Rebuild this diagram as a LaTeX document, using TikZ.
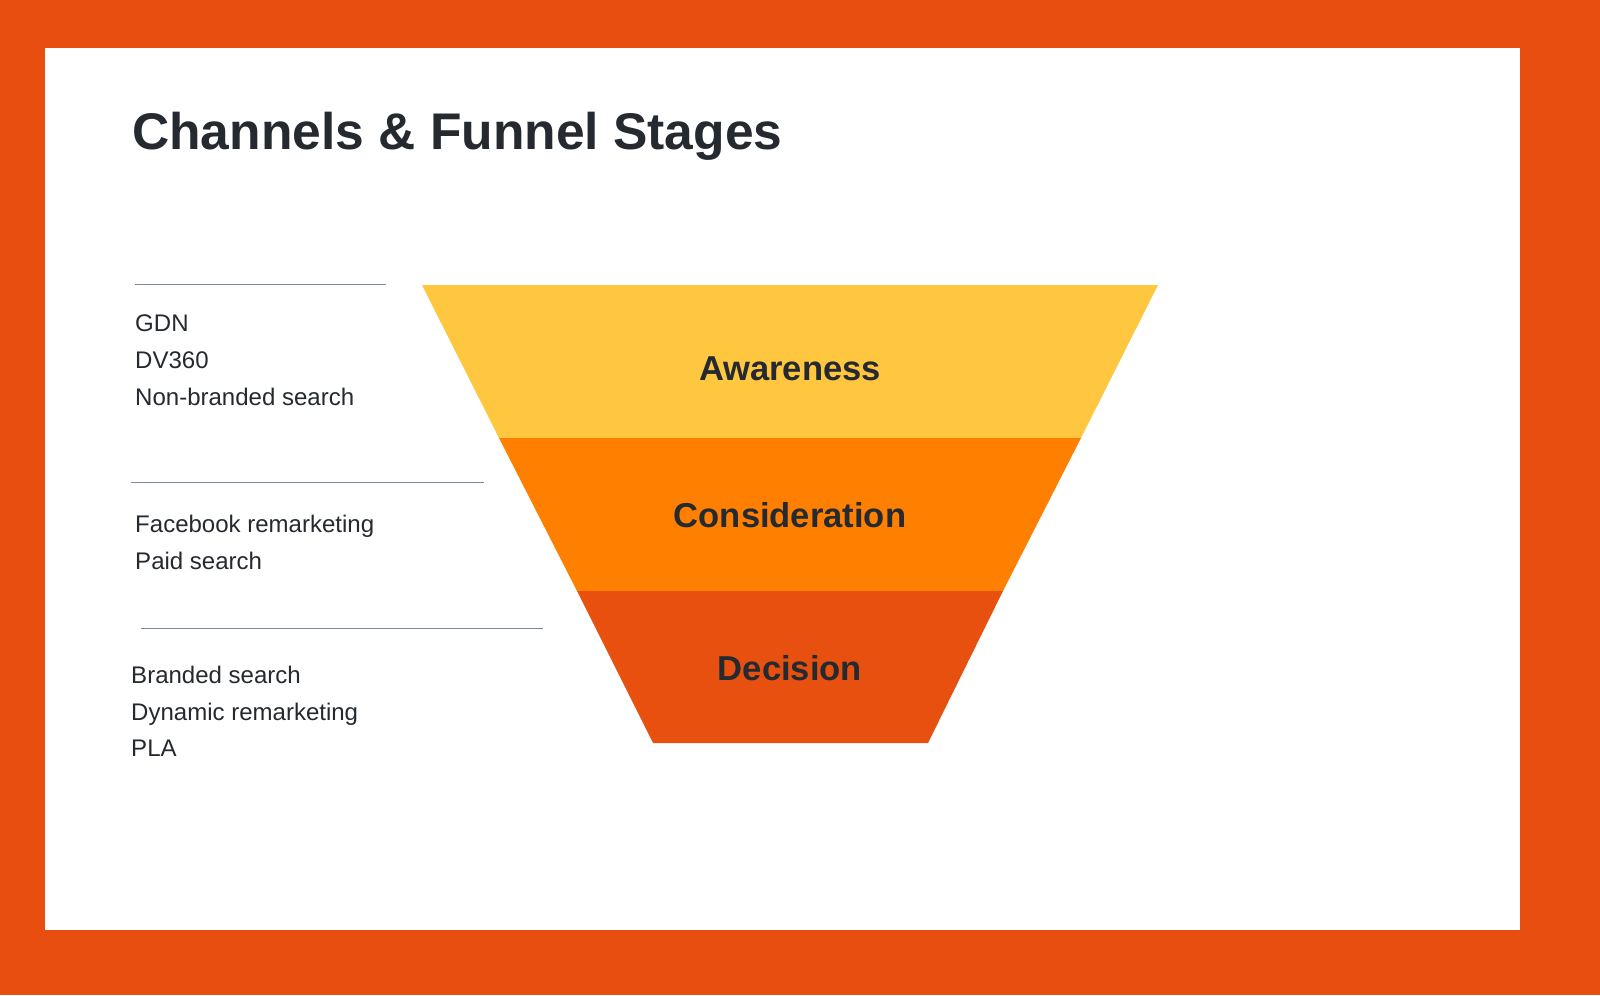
\documentclass[tikz,border=0pt]{standalone}
\usepackage{fontspec}
\setmainfont{Liberation Sans}
\begin{document}
\begin{tikzpicture}[x=0.03cm,y=-0.03cm,
  item/.style={anchor=base west,inner sep=0,font=\fontsize{20.5}{24}\selectfont,text=txt},
  stage/.style={font=\bfseries\fontsize{29.5}{34}\selectfont,text=txt},
  rule/.style={draw=linec,line width=0.8pt}]
\definecolor{bord}{HTML}{E84E10}
\definecolor{txt}{HTML}{252A31}
\definecolor{linec}{HTML}{7D8A99}
\definecolor{aw}{HTML}{FFC640}
\definecolor{co}{HTML}{FF7F00}
\definecolor{de}{HTML}{E8500F}
\fill[bord] (0,0) rectangle (1600,995);
\fill[white] (45,48) rectangle (1520,930);
\useasboundingbox (0,0) rectangle (1600,995);
\node[anchor=base west,inner sep=0,font=\bfseries\fontsize{44}{50}\selectfont,text=txt] (title) at (132,149) {Channels \& Funnel Stages};
\fill[aw] (422,285) -- (1158,285) -- (1081,438) -- (499,438) -- cycle;
\fill[co] (499,438) -- (1081,438) -- (1003,591) -- (577,591) -- cycle;
\fill[de] (577,591) -- (1003,591) -- (928,743) -- (653,743) -- cycle;
\node[stage] (aware) at (790,369) {Awareness};
\node[stage] (consid) at (790,515) {Consideration};
\node[stage] (decis) at (790,668) {Decision};
\draw[rule] (135,284) -- (386,284);
\draw[rule] (131,482) -- (484,482);
\draw[rule] (141,628) -- (543,628);
\node[item] (i1) at (135,331) {GDN};
\node[item] (i2) at (135,368) {DV360};
\node[item] (i3) at (135,405) {Non-branded search};
\node[item] (i4) at (135,532) {Facebook remarketing};
\node[item] (i5) at (135,569) {Paid search};
\node[item] (i6) at (131,683) {Branded search};
\node[item] (i7) at (131,720) {Dynamic remarketing};
\node[item] (i8) at (131,756) {PLA};
\end{tikzpicture}
\end{document}
